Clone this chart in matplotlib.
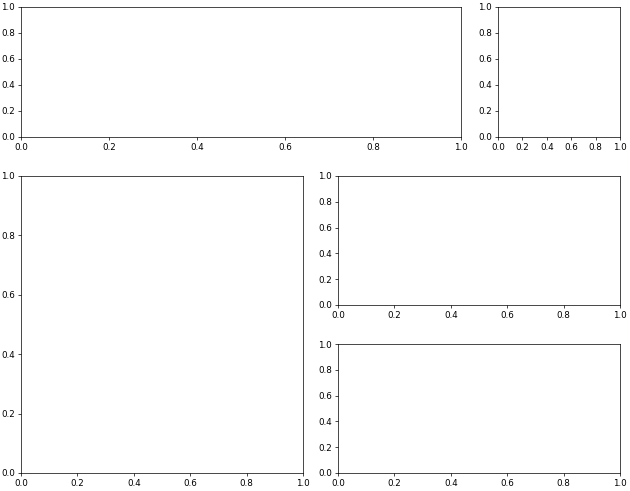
import matplotlib

matplotlib.use("Agg")
import matplotlib.pyplot as plt

# axis limits and ticks shared by every panel (empty axes, 0..1)
x_limits = [0.0, 1.0]
y_limits = [0.0, 1.0]
tick_values = [0.0, 0.2, 0.4, 0.6, 0.8, 1.0]

# panel boxes in pixels of the 630x491 canvas: (left, top, right, bottom)
W, H = 630, 491
panels = {
    "top_wide": (21, 7, 461, 137),
    "top_small": (498, 7, 620, 137),
    "tall": (21, 176, 303, 473),
    "mid_right": (338, 176, 620, 305),
    "low_right": (338, 344, 620, 473),
}

fig = plt.figure(figsize=(W / 63, H / 63), dpi=63)

for name, (l, t, r, b) in panels.items():
    ax = fig.add_axes([l / W, 1 - b / H, (r - l) / W, (b - t) / H])
    ax.set_xlim(*x_limits)
    ax.set_ylim(*y_limits)
    ax.set_xticks(tick_values)
    ax.set_yticks(tick_values)

fig.savefig("out.png", dpi=63)
